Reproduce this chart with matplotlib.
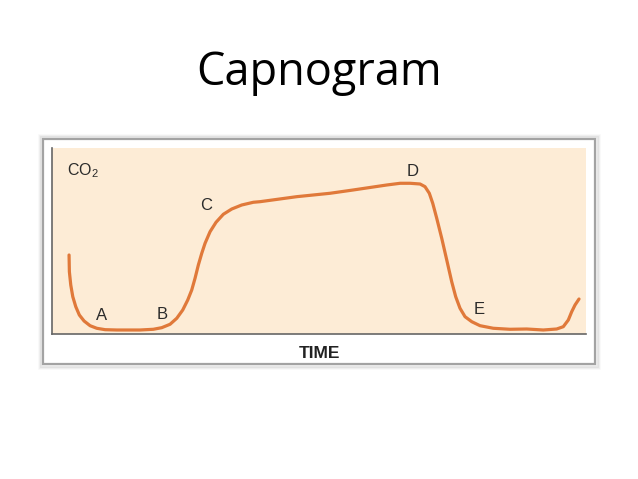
import matplotlib
matplotlib.use("Agg")
import matplotlib.pyplot as plt
from matplotlib.patches import Rectangle

plt.rcParams['font.family'] = ['Liberation Sans', 'DejaVu Sans']
plt.rcParams['mathtext.default'] = 'regular'

# capnogram trace: time (s) and CO2 (mmHg)
time_s = [0.300, 0.306, 0.332, 0.370, 0.426, 0.493, 0.582, 0.694, 0.820, 0.976,
          1.195, 1.632, 1.882, 2.039, 2.195, 2.321, 2.433, 2.527, 2.602, 2.664,
          2.726, 2.790, 2.852, 2.946, 3.058, 3.195, 3.353, 3.540, 3.758, 3.884,
          4.572, 5.197, 5.629, 6.261, 6.513, 6.700, 6.886, 6.979, 7.060, 7.124,
          7.199, 7.293, 7.387, 7.480, 7.555, 7.636, 7.730, 7.856, 8.011, 8.261,
          8.574, 8.887, 9.199, 9.450, 9.574, 9.668, 9.732, 9.794, 9.869]
co2 = [19.75, 15.58, 12.25, 9.33, 6.83, 4.75, 3.25, 2.08, 1.43, 1.08,
       1.00, 1.00, 1.18, 1.58, 2.43, 3.93, 6.00, 8.50, 11.00, 13.93,
       17.25, 20.18, 22.68, 25.58, 27.93, 29.93, 31.25, 32.25, 32.93, 33.08,
       34.33, 35.18, 36.00, 37.25, 37.68, 37.68, 37.50, 36.83, 35.18, 32.68,
       28.93, 23.93, 18.50, 13.08, 9.33, 6.43, 4.33, 3.08, 2.08, 1.43,
       1.18, 1.25, 1.00, 1.25, 1.83, 3.50, 5.58, 7.25, 8.75]

# phase labels and where they sit
phase_labels = ['A', 'B', 'C', 'D', 'E']
phase_time = [0.91, 2.05, 2.88, 6.75, 7.99]
phase_co2 = [4.75, 4.9, 32.1, 40.75, 6.0]

W, H = 638, 479
fig = plt.figure(figsize=(6.38, 4.79), dpi=100)

# title
fig.text(0.5, (H - 85) / H, "Capnogram", ha='center', va='baseline',
         fontsize=32.5, family=['Open Sans', 'DejaVu Sans'], color='black')

# framed panel with soft shadow
for i, a in enumerate([0.05, 0.08, 0.12]):
    off = 4 - i
    fig.patches.append(Rectangle(((43 - off) / W, (H - 364 - off) / H),
                                 (552 + 2 * off) / W, (225 + 2 * off) / H,
                                 transform=fig.transFigure, facecolor='none',
                                 edgecolor='gray', alpha=a, linewidth=2,
                                 zorder=0))
fig.patches.append(Rectangle((43 / W, (H - 364) / H), 552 / W, 225 / H,
                             transform=fig.transFigure, facecolor='white',
                             edgecolor='#a3a3a3', linewidth=1.6, zorder=0.5))

ax = fig.add_axes([52 / W, (H - 334) / H, 534 / W, 186 / H])
ax.set_zorder(2)
ax.set_facecolor('#fdecd6')
ax.plot(time_s, co2, color='#e0793a', linewidth=2.3, solid_capstyle='round',
        solid_joinstyle='round')
ax.set_xlim(-0.02, 10.0)
ax.set_ylim(0, 46.5)

for s in ['top', 'right']:
    ax.spines[s].set_visible(False)
for s in ['left', 'bottom']:
    ax.spines[s].set_color('#666666')
    ax.spines[s].set_linewidth(1.2)
ax.set_xticks([])
ax.set_yticks([])

for lab, t, c in zip(phase_labels, phase_time, phase_co2):
    ax.text(t, c, lab, ha='center', va='center', fontsize=12, color='#2b2b2b')

ax.text(0.26, 40.75, 'CO$_2$', ha='left', va='center', fontsize=11.5,
        color='#2b2b2b')
ax.set_xlabel('TIME', fontsize=12.5, fontweight='bold', color='#222222',
              labelpad=9)

fig.savefig('out.png', dpi=100)
